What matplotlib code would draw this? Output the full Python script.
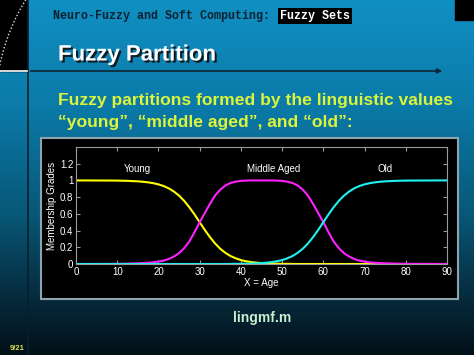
import numpy as np
import matplotlib
matplotlib.use('Agg')
import matplotlib.pyplot as plt
import matplotlib.patheffects as pe
from matplotlib.colors import LinearSegmentedColormap
from matplotlib.patches import Rectangle, Arc

plt.rcParams['font.family'] = ['Liberation Sans', 'DejaVu Sans']

# membership grades (denser where they bend)
age = [0, 2.5, 5, 7.5, 10, 12.5, 15,
       16.25, 17.5, 18.75, 20, 21.25, 22.5, 23.75, 25, 26.25, 27.5, 28.75, 30,
       31.25, 32.5, 33.75, 35, 36.25, 37.5, 38.75, 40, 41.25, 42.5, 43.75, 45,
       46.25, 47.5, 48.75, 50, 51.25, 52.5, 53.75, 55, 56.25, 57.5, 58.75, 60,
       61.25, 62.5, 63.75, 65, 66.25, 67.5, 68.75, 70, 71.25, 72.5, 73.75, 75,
       77.5, 80, 82.5, 85, 87.5, 90]
young = [1.0, 1.0, 0.999, 0.999, 0.998, 0.995, 0.989,
         0.984, 0.977, 0.967, 0.953, 0.933, 0.905, 0.867, 0.818, 0.755, 0.679, 0.593, 0.5,
         0.407, 0.321, 0.245, 0.182, 0.133, 0.095, 0.068, 0.047, 0.033, 0.023, 0.016, 0.011,
         0.008, 0.005, 0.004, 0.002, 0.002, 0.001, 0, 0, 0, 0, 0, 0,
         0, 0, 0, 0, 0, 0, 0, 0, 0, 0, 0, 0,
         0, 0, 0, 0, 0, 0]
middle = [0, 0, 0.001, 0.001, 0.002, 0.004, 0.008,
          0.011, 0.015, 0.02, 0.03, 0.04, 0.06, 0.09, 0.13, 0.19, 0.27, 0.38, 0.5,
          0.61, 0.72, 0.82, 0.89, 0.94, 0.97, 0.985, 0.995, 0.998, 1.0, 1.0, 1.0,
          1.0, 1.0, 0.998, 0.995, 0.985, 0.97, 0.94, 0.89, 0.82, 0.72, 0.61, 0.5,
          0.38, 0.27, 0.19, 0.13, 0.09, 0.06, 0.04, 0.03, 0.02, 0.015, 0.011, 0.008,
          0.004, 0.002, 0.001, 0.001, 0, 0]
old = [0, 0, 0, 0, 0, 0, 0,
       0, 0, 0, 0, 0, 0, 0, 0, 0, 0, 0, 0,
       0, 0, 0, 0, 0, 0.001, 0.002, 0.002, 0.004, 0.005, 0.008, 0.011,
       0.016, 0.023, 0.033, 0.047, 0.068, 0.095, 0.133, 0.182, 0.245, 0.321, 0.407, 0.5,
       0.593, 0.679, 0.755, 0.818, 0.867, 0.905, 0.933, 0.953, 0.967, 0.977, 0.984, 0.989,
       0.995, 0.998, 0.999, 0.999, 1.0, 1.0]

W, H = 474, 355
fig = plt.figure(figsize=(W / 100, H / 100), dpi=100)

# slide background
bg = fig.add_axes([0, 0, 1, 1])
bg.set_xlim(0, W)
bg.set_ylim(H, 0)
bg.axis('off')
cmap = LinearSegmentedColormap.from_list('slide', [(0, '#1090c2'), (0.3, '#0b7aa8'),
                                                   (0.6, '#085878'), (0.85, '#06293a'),
                                                   (1, '#021018')])
grad = np.linspace(0, 1, 256).reshape(-1, 1)
bg.imshow(grad, cmap=cmap, aspect='auto', extent=[0, W, H, 0], zorder=0)

# corner decorations
bg.add_patch(Rectangle((0, 0), 27.5, 70.5, color='black', zorder=1))
arc = Arc((199.5, 106.6), 408, 408, theta1=180, theta2=240, color='#dddddd',
          lw=1, ls=(0, (1, 1.5)), zorder=2)
bg.add_artist(arc)
arc.set_clip_path(Rectangle((0, 0), 27.5, 70.5, transform=bg.transData))
bg.add_patch(Rectangle((455, 0), 19, 19.5, color='black', zorder=1))
bg.plot([28, 28], [0, H], color='#06202c', lw=1.2, zorder=2)
bg.plot([0, 27], [71, 71], color='white', lw=1.2, zorder=2)
bg.annotate('', xy=(445, 71), xytext=(28, 71),
            arrowprops=dict(arrowstyle='-|>', color='#0a2533', lw=1.2,
                            mutation_scale=7), zorder=2)

# header
bg.text(53, 16, 'Neuro-Fuzzy and Soft Computing:', family='Liberation Mono',
        weight='bold', fontsize=8.4, color='#0b2232', va='center')
bg.text(280, 16, 'Fuzzy Sets', family='Liberation Mono', weight='bold',
        fontsize=8.4, color='white', va='center',
        bbox=dict(boxstyle='square,pad=0.2', fc='black', ec='none'))

# title with shadow
bg.text(58, 55, 'Fuzzy Partition', fontsize=16, weight='bold', color='white',
        va='center',
        path_effects=[pe.SimplePatchShadow(offset=(1.5, -1.5), shadow_rgbFace='#101010',
                                           alpha=0.9), pe.Normal()])

bg.text(58, 100, 'Fuzzy partitions formed by the linguistic values', fontsize=12.6,
        weight='bold', color='#dcf53a', va='center')
bg.text(58, 122, '\u201cyoung\u201d, \u201cmiddle aged\u201d, and \u201cold\u201d:',
        fontsize=12.6, weight='bold', color='#dcf53a', va='center')

# black chart panel
bg.add_patch(Rectangle((41, 138), 417, 161, fc='black', ec='#8ea3ab', lw=1.5,
                       zorder=3))

bg.text(262, 318, 'lingmf.m', fontsize=10, weight='bold', color='#c8f0d0',
        ha='center', va='center')
bg.text(17, 348, '9/21', fontsize=5.5, weight='bold', color='#d8e040',
        ha='center', va='center')

# the chart itself
ax = fig.add_axes([76 / W, (H - 264) / H, (447 - 76) / W, (264 - 147) / H])
ax.set_facecolor('black')
ax.plot(age, young, color='#ffff00', lw=1.5)
ax.plot(age, middle, color='#ff20ff', lw=1.5)
ax.plot(age, old, color='#20f0f0', lw=1.5)
ax.set_xlim(0, 90)
ax.set_ylim(0, 1.4)
ax.set_xticks(range(0, 91, 10))
ax.set_yticks([0, 0.2, 0.4, 0.6, 0.8, 1, 1.2])
ax.set_yticklabels(['0', '0.2', '0.4', '0.6', '0.8', '1', '1.2'])
ax.tick_params(direction='in', length=3, color='#9a9a9a', labelcolor='white',
               labelsize=7, top=True, right=True, pad=2)
for sp in ax.spines.values():
    sp.set_color('#9a9a9a')
    sp.set_linewidth(0.8)
ax.set_xlabel('X = Age', color='white', fontsize=7, labelpad=1)
ax.set_ylabel('Membership Grades', color='white', fontsize=7, labelpad=2)
ax.text(15, 1.14, 'Young', color='white', fontsize=7, ha='center', va='center')
ax.text(48, 1.14, 'Middle Aged', color='white', fontsize=7, ha='center', va='center')
ax.text(75, 1.14, 'Old', color='white', fontsize=7, ha='center', va='center')

fig.savefig('out.png', dpi=100)
